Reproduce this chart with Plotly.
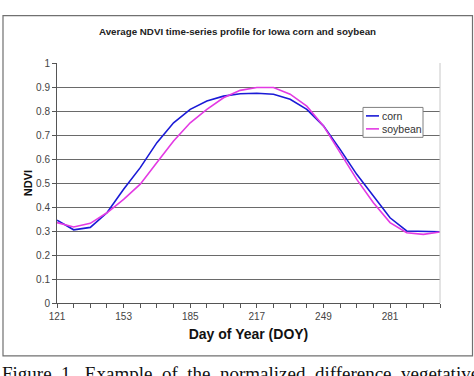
import plotly.graph_objects as go

# ---- data ----
doy = [121, 129, 137, 145, 153, 161, 169, 177, 185, 193, 201, 209,
       217, 225, 233, 241, 249, 257, 265, 273, 281, 289, 297, 305]
corn = [0.345, 0.305, 0.315, 0.376, 0.474, 0.564, 0.668, 0.751, 0.807, 0.842, 0.862, 0.872,
        0.874, 0.870, 0.849, 0.807, 0.738, 0.640, 0.536, 0.446, 0.355, 0.300, 0.297, 0.297]
soybean = [0.335, 0.317, 0.332, 0.376, 0.432, 0.495, 0.585, 0.675, 0.751, 0.807, 0.855, 0.886,
           0.898, 0.898, 0.870, 0.820, 0.738, 0.626, 0.515, 0.418, 0.335, 0.293, 0.286, 0.296]
series_names = ["corn", "soybean"]
series_colors = ["#1a1ad6", "#e33ae3"]
x_tick_vals = doy
x_tick_labels = ["121", "", "", "", "153", "", "", "", "185", "", "", "", "217", "", "", "",
                 "249", "", "", "", "281", "", "", ""]
y_tick_vals = [0, 0.1, 0.2, 0.3, 0.4, 0.5, 0.6, 0.7, 0.8, 0.9, 1]
y_tick_labels = ["0", "0.1", "0.2", "0.3", "0.4", "0.5", "0.6", "0.7", "0.8", "0.9", "1"]

W, H = 474, 376
L, R, T, B = 57, 440, 62.5, 303  # plot area in pixels
PW, PH = R - L, B - T


def px(xp):
    return (xp - L) / PW


def py(yp):
    return (B - yp) / PH


fig = go.Figure()
for name, vals, col in zip(series_names, [corn, soybean], series_colors):
    fig.add_trace(go.Scatter(x=doy, y=vals, name=name, mode="lines",
                             line=dict(color=col, width=1.6), showlegend=False))

font = "Liberation Sans, Arial, sans-serif"

fig.update_layout(
    width=W, height=H,
    margin=dict(l=L, r=W - R, t=T, b=H - B, pad=0),
    paper_bgcolor="white", plot_bgcolor="white",
    font=dict(family=font, color="#333"),
)

fig.update_xaxes(range=[121, 305], tickvals=x_tick_vals, ticktext=x_tick_labels,
                 ticks="outside", ticklen=4, tickcolor="#555", tickwidth=1,
                 showline=True, linecolor="#555", linewidth=1, mirror=False,
                 showgrid=False, zeroline=False,
                 tickfont=dict(family=font, size=10, color="#444"),
                 title=dict(text="<b>Day of Year (DOY)</b>", standoff=8,
                            font=dict(family=font, size=14, color="#111")))
fig.update_yaxes(range=[0, 1], tickvals=y_tick_vals, ticktext=y_tick_labels,
                 ticks="outside", ticklen=4, tickcolor="#555", tickwidth=1,
                 showline=True, linecolor="#555", linewidth=1,
                 showgrid=True, gridcolor="#6a6a6a", gridwidth=1, zeroline=False,
                 tickfont=dict(family=font, size=10, color="#444"),
                 title=dict(text="<b>NDVI</b>", standoff=1,
                            font=dict(family=font, size=11, color="#111")))

shapes = [
    # outer chart frame
    dict(type="rect", xref="paper", yref="paper",
         x0=px(3), x1=px(472.5), y0=py(356), y1=py(15),
         line=dict(color="#707070", width=1.2), fillcolor="rgba(0,0,0,0)", layer="below"),
    # light plot-area border (right)
    dict(type="line", xref="paper", yref="paper", x0=1, x1=1, y0=0, y1=1,
         line=dict(color="#c8c8c8", width=1)),
    # legend box
    dict(type="rect", xref="paper", yref="paper",
         x0=px(363), x1=px(423), y0=py(137), y1=py(107),
         line=dict(color="#808080", width=1), fillcolor="white", layer="above"),
]
legend_rows = [115.5, 128.5]
for row, col in zip(legend_rows, series_colors):
    shapes.append(dict(type="line", xref="paper", yref="paper",
                       x0=px(366), x1=px(379), y0=py(row), y1=py(row),
                       line=dict(color=col, width=1.6), layer="above"))
fig.update_layout(shapes=shapes)

for row, name in zip(legend_rows, series_names):
    fig.add_annotation(text=name, xref="paper", yref="paper", x=px(380), y=py(row),
                       xanchor="left", yanchor="middle", showarrow=False,
                       font=dict(family=font, size=10.5, color="#333"))

fig.add_annotation(text="<b>Average NDVI time-series profile for Iowa corn and soybean</b>",
                   xref="paper", yref="paper", x=px(237.5), y=py(31),
                   xanchor="center", yanchor="middle", showarrow=False,
                   font=dict(family=font, size=9.75, color="#222"))

caption = "\u00a0\u00a0".join("Figure 1. Example of the normalized difference vegetative".split(" "))
fig.add_annotation(text=caption,
                   xref="paper", yref="paper", x=px(0), y=py(361.5),
                   xanchor="left", yanchor="top", showarrow=False,
                   font=dict(family="Liberation Serif, Times New Roman, serif", size=19, color="#111"))

fig.write_html("out.html", config={"displayModeBar": False},
               post_script="document.body.style.margin='0';document.body.style.padding='0';")
